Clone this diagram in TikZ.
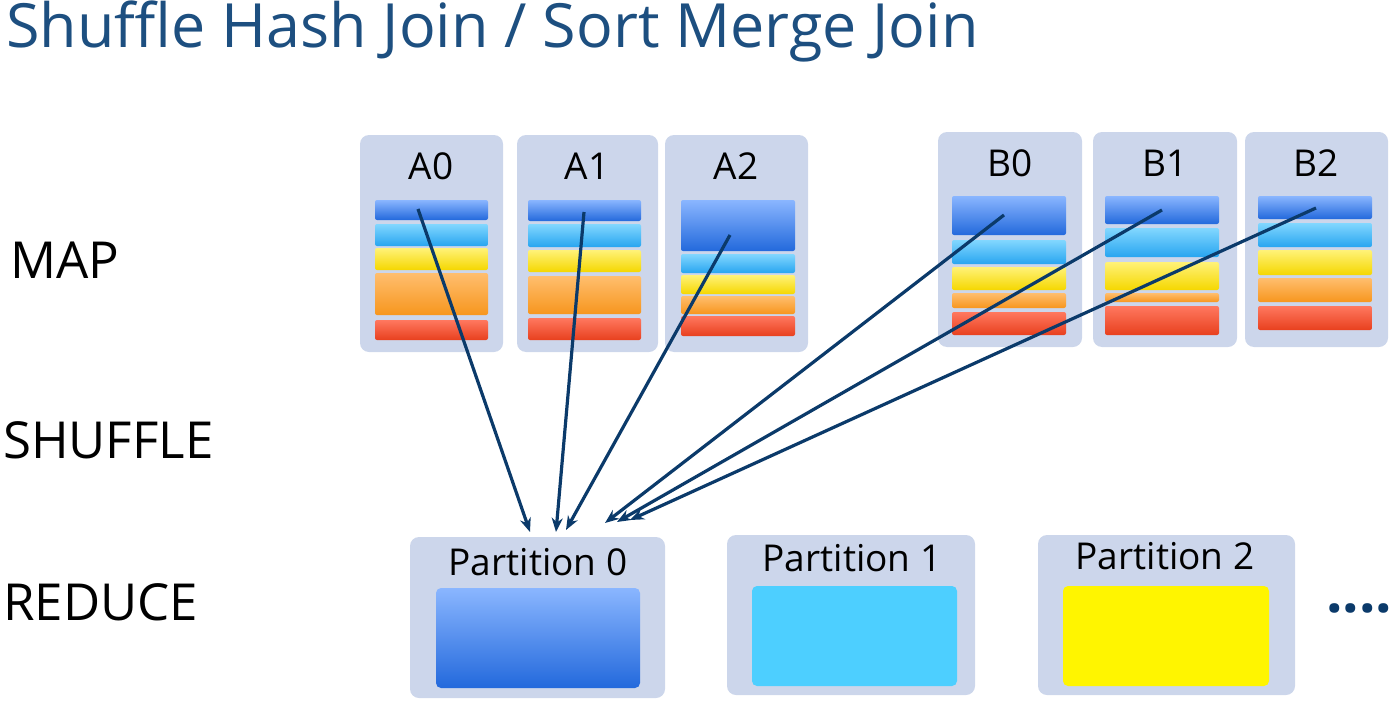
\documentclass[tikz,border=0pt]{standalone}
\usepackage{fontspec}
\setmainfont{Open Sans}
\usetikzlibrary{arrows.meta}
\begin{document}
\definecolor{bg}{HTML}{CCD6EB}
\definecolor{navy}{HTML}{0B3A6A}
\definecolor{ttl}{HTML}{1D4F80}
\definecolor{bluT}{HTML}{8AB6FF}\definecolor{bluB}{HTML}{2369DC}
\definecolor{lbT}{HTML}{82D7FF}\definecolor{lbB}{HTML}{28A5F0}
\definecolor{yelT}{HTML}{FFF278}\definecolor{yelB}{HTML}{F5D700}
\definecolor{orT}{HTML}{FFBE6E}\definecolor{orB}{HTML}{F7961E}
\definecolor{redT}{HTML}{FF785F}\definecolor{redB}{HTML}{E8401E}
\definecolor{p1c}{HTML}{4DCFFF}\definecolor{p2c}{HTML}{FFF500}
\tikzset{
 card/.style={fill=bg,rounded corners=9pt,draw=none},
 bluS/.style={top color=bluT,bottom color=bluB},
 lbS/.style={top color=lbT,bottom color=lbB},
 yelS/.style={top color=yelT,bottom color=yelB},
 orS/.style={top color=orT,bottom color=orB},
 redS/.style={top color=redT,bottom color=redB},
 lab/.style={anchor=base west,inner sep=0pt,font=\fontsize{51}{56}\selectfont},
 hd/.style={anchor=base,inner sep=0pt,font=\fontsize{37}{42}\selectfont},
 pt/.style={anchor=base,inner sep=0pt,font=\fontsize{37}{42}\selectfont},
 arr/.style={draw=navy,line width=3.2pt,-{Stealth[length=14pt,width=11pt]}}
}
\newcommand\strp[5]{\shade[#5,rounded corners=2pt] (#1,#3) rectangle (#2,#4);}
\begin{tikzpicture}[x=1pt,y=-1pt]
\useasboundingbox (0,0) rectangle (1400,709);
\node[anchor=base west,inner sep=0pt,text=ttl,font=\fontsize{61}{66}\selectfont] (title) at (6,48) {Shuffle Hash Join / Sort Merge Join};
\node[lab] (map) at (10,278) {MAP};
\node[lab] (shuf) at (3,458) {SHUFFLE};
\node[lab] (red) at (3,620) {REDUCE};
% A cards
\fill[card] (360,135) rectangle (503,352);
\fill[card] (517,135) rectangle (658,352);
\fill[card] (665,135) rectangle (808,352);
\node[hd] (a0) at (431,179) {A0};
\node[hd] (a1) at (587,179) {A1};
\node[hd] (a2) at (736,179) {A2};
\strp{375}{488}{200}{220}{bluS}\strp{375}{488}{224}{246}{lbS}\strp{375}{488}{248}{270}{yelS}\strp{375}{488}{273}{315}{orS}\strp{375}{488}{320}{340}{redS}
\strp{528}{641}{200}{221}{bluS}\strp{528}{641}{224}{247}{lbS}\strp{528}{641}{250}{272}{yelS}\strp{528}{641}{276}{314}{orS}\strp{528}{641}{318}{340}{redS}
\strp{681}{795}{200}{251}{bluS}\strp{681}{795}{254}{273}{lbS}\strp{681}{795}{275}{294}{yelS}\strp{681}{795}{296}{314}{orS}\strp{681}{795}{316}{336}{redS}
% B cards
\fill[card] (938,132) rectangle (1082,347);
\fill[card] (1093,132) rectangle (1237,347);
\fill[card] (1245,132) rectangle (1388,347);
\node[hd] (b0) at (1010,176) {B0};
\node[hd] (b1) at (1165,176) {B1};
\node[hd] (b2) at (1316,176) {B2};
\strp{952}{1066}{196}{235}{bluS}\strp{952}{1066}{240}{264}{lbS}\strp{952}{1066}{267}{290}{yelS}\strp{952}{1066}{293}{308}{orS}\strp{952}{1066}{312}{335}{redS}
\strp{1105}{1219}{196}{224}{bluS}\strp{1105}{1219}{228}{257}{lbS}\strp{1105}{1219}{262}{290}{yelS}\strp{1105}{1219}{293}{302}{orS}\strp{1105}{1219}{306}{335}{redS}
\strp{1258}{1372}{196}{219}{bluS}\strp{1258}{1372}{223}{247}{lbS}\strp{1258}{1372}{250}{275}{yelS}\strp{1258}{1372}{278}{302}{orS}\strp{1258}{1372}{306}{330}{redS}
% partitions
\fill[card] (410,537) rectangle (665,698);
\fill[card] (727,535) rectangle (975,695);
\fill[card] (1038,535) rectangle (1295,695);
\node[pt] (p0) at (538,575) {Partition 0};
\node[pt] (p1) at (852,571) {Partition 1};
\node[pt] (p2) at (1165,569) {Partition 2};
\shade[bluS,rounded corners=5pt] (436,588) rectangle (640,688);
\fill[p1c,rounded corners=5pt] (752,586) rectangle (957,686);
\fill[p2c,rounded corners=5pt] (1063,586) rectangle (1269,686);
\node[anchor=base west,inner sep=0pt,text=navy,font=\fontsize{58}{58}\selectfont\bfseries] (dots) at (1326,612) {....};
% arrows
\coordinate (sa0) at (418,209); \coordinate (ea0) at (530,532);
\coordinate (sa1) at (584,212); \coordinate (ea1) at (556,532);
\coordinate (sa2) at (730,235); \coordinate (ea2) at (566,530);
\coordinate (sb0) at (1004,215); \coordinate (eb0) at (605,523);
\coordinate (sb1) at (1162,210); \coordinate (eb1) at (617,522);
\coordinate (sb2) at (1316,208); \coordinate (eb2) at (630,520);
\foreach \n in {a0,a1,a2,b0,b1,b2} \draw[arr] (s\n) -- (e\n);
\end{tikzpicture}
\end{document}
